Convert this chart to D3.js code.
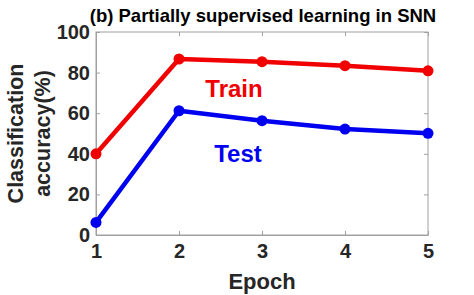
<!DOCTYPE html>
<html>
<head>
<meta charset="utf-8">
<script src="https://cdn.jsdelivr.net/npm/d3@7"></script>
<style>
  body { margin: 0; background: #fff; }
  svg { display: block; font-family: "Liberation Sans", Arial, sans-serif; }
</style>
</head>
<body>
<svg id="chart" width="474" height="295"></svg>
<script>
const epochs = [1, 2, 3, 4, 5];
const trainAcc = [40, 86.7, 85.4, 83.4, 80.9];
const testAcc = [6.2, 61.2, 56.3, 52.2, 50.1];
const yTicks = [0, 20, 40, 60, 80, 100];

const margin = {top: 32, right: 46, bottom: 60, left: 96};
const width = 474, height = 295;

const svg = d3.select('#chart');

const x = d3.scaleLinear().domain([1, 5]).range([margin.left, width - margin.right]);
const y = d3.scaleLinear().domain([0, 100]).range([height - margin.bottom, margin.top]);

// box
svg.append('rect')
  .attr('x', margin.left)
  .attr('y', margin.top)
  .attr('width', x(5) - x(1))
  .attr('height', y(0) - y(100))
  .attr('fill', 'none')
  .attr('stroke', '#a0a0a0')
  .attr('stroke-width', 1);

// x axis (ticks inward)
const xAxis = svg.append('g')
  .attr('transform', `translate(0,${y(0)})`)
  .call(d3.axisBottom(x).tickValues(epochs).tickFormat(d3.format('d')).tickSizeInner(-4).tickSizeOuter(0).tickPadding(9));
xAxis.select('.domain').attr('stroke', '#a0a0a0');
xAxis.selectAll('.tick line').attr('stroke', '#a0a0a0');
xAxis.selectAll('text')
  .attr('font-size', 20).attr('font-weight', 'bold').attr('fill', '#262626')
  .attr('font-family', '"Liberation Sans", Arial, sans-serif');

// top ticks
svg.append('g')
  .attr('transform', `translate(0,${y(100)})`)
  .call(d3.axisTop(x).tickValues(epochs).tickFormat('').tickSizeInner(-4).tickSizeOuter(0))
  .call(g => g.select('.domain').remove())
  .selectAll('.tick line').attr('stroke', '#a0a0a0');

// y axis
const yAxis = svg.append('g')
  .attr('transform', `translate(${x(1)},0)`)
  .call(d3.axisLeft(y).tickValues(yTicks).tickSizeInner(-4).tickSizeOuter(0).tickPadding(6));
yAxis.select('.domain').attr('stroke', '#a0a0a0');
yAxis.selectAll('.tick line').attr('stroke', '#a0a0a0');
yAxis.selectAll('text')
  .attr('font-size', 20).attr('font-weight', 'bold').attr('fill', '#262626')
  .attr('font-family', '"Liberation Sans", Arial, sans-serif');

// right ticks
svg.append('g')
  .attr('transform', `translate(${x(5)},0)`)
  .call(d3.axisRight(y).tickValues(yTicks).tickFormat('').tickSizeInner(-4).tickSizeOuter(0))
  .call(g => g.select('.domain').remove())
  .selectAll('.tick line').attr('stroke', '#a0a0a0');

// series
const series = [
  {name: 'Train', values: trainAcc, color: '#f00000'},
  {name: 'Test', values: testAcc, color: '#0000f0'}
];

const line = d3.line().x((d, i) => x(epochs[i])).y(d => y(d));

series.forEach(s => {
  svg.append('path')
    .datum(s.values)
    .attr('d', line)
    .attr('fill', 'none')
    .attr('stroke', s.color)
    .attr('stroke-width', 4.5)
    .attr('stroke-linejoin', 'round');

  svg.append('g')
    .selectAll('circle')
    .data(s.values)
    .enter().append('circle')
    .attr('cx', (d, i) => x(epochs[i]))
    .attr('cy', d => y(d))
    .attr('r', 5.5)
    .attr('fill', s.color);
});

// series labels
svg.append('text')
  .attr('x', 234).attr('y', 97)
  .attr('text-anchor', 'middle')
  .attr('font-size', 24).attr('font-weight', 'bold')
  .attr('fill', '#f00000')
  .text('Train');

svg.append('text')
  .attr('x', 238).attr('y', 162)
  .attr('text-anchor', 'middle')
  .attr('font-size', 24).attr('font-weight', 'bold')
  .attr('fill', '#0000f0')
  .text('Test');

// title
svg.append('text')
  .attr('x', 263).attr('y', 22)
  .attr('text-anchor', 'middle')
  .attr('font-size', 18.5).attr('font-weight', 'bold')
  .attr('fill', '#000')
  .text('(b) Partially supervised learning in SNN');

// x label
svg.append('text')
  .attr('x', (x(1) + x(5)) / 2).attr('y', 289)
  .attr('text-anchor', 'middle')
  .attr('font-size', 22).attr('font-weight', 'bold')
  .attr('fill', '#262626')
  .text('Epoch');

// y label
const yl = svg.append('text')
  .attr('transform', `translate(0,${(y(0) + y(100)) / 2}) rotate(-90)`)
  .attr('text-anchor', 'middle')
  .attr('font-size', 21.5).attr('font-weight', 'bold')
  .attr('fill', '#262626');
yl.append('tspan').attr('x', 0).attr('y', 23).text('Classification');
yl.append('tspan').attr('x', 0).attr('y', 50).text('accuracy(%)');
</script>
</body>
</html>
